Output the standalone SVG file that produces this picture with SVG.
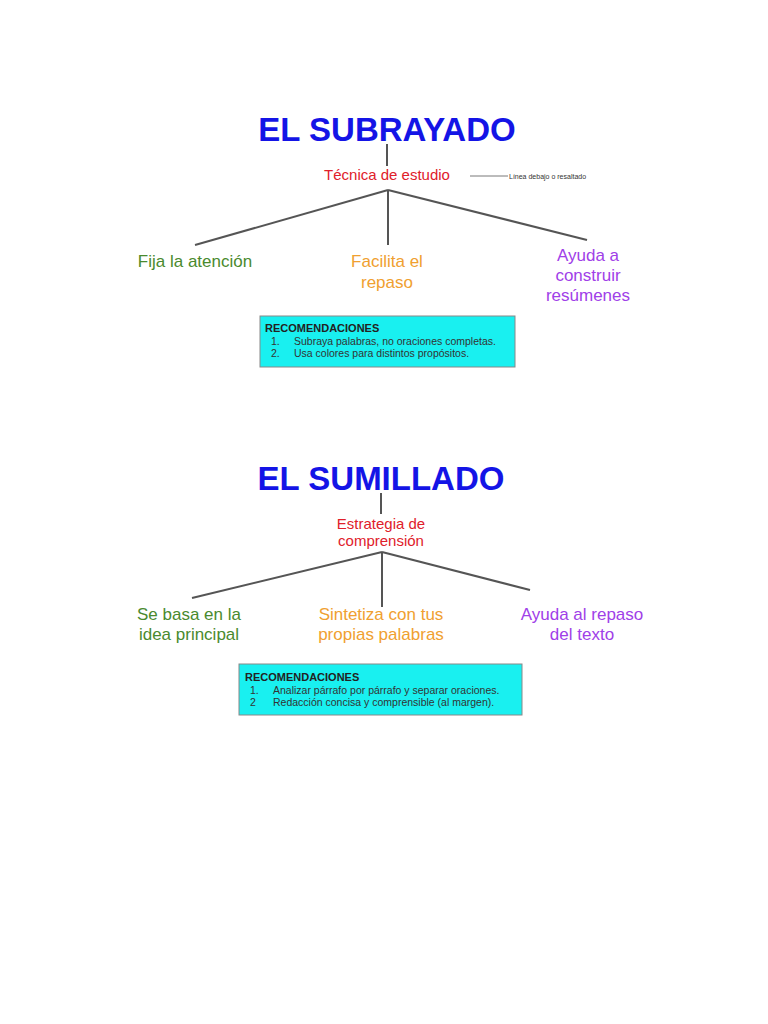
<svg xmlns="http://www.w3.org/2000/svg" width="768" height="1024" viewBox="0 0 768 1024">
<style>
text{font-family:"Liberation Sans",Arial,sans-serif}
.t{font-size:33px;font-weight:bold;fill:#1414e6}
.r{font-size:15px;fill:#e0202a}
.g{font-size:17px;fill:#4a8a2e}
.o{font-size:17px;fill:#f0a030}
.p{font-size:17px;fill:#a040e8}
.c line{stroke:#555;stroke-width:2}
.box{fill:#19f0f0;stroke:#888;stroke-width:1}
.bh{font-size:11px;font-weight:bold;fill:#222}
.bt{font-size:10.5px;fill:#333}
</style>
<rect width="768" height="1024" fill="#fff"/>
<g class="c">
<line x1="387" y1="144" x2="387" y2="166"/>
<line x1="388" y1="190" x2="195" y2="245"/>
<line x1="388" y1="190" x2="388" y2="245"/>
<line x1="388" y1="190" x2="587" y2="240"/>
<line x1="470" y1="176" x2="508" y2="176" style="stroke-width:0.8"/>
<line x1="381" y1="493" x2="381" y2="514"/>
<line x1="382" y1="552" x2="192" y2="598"/>
<line x1="382" y1="552" x2="382" y2="607"/>
<line x1="382" y1="552" x2="530" y2="590"/>
</g>
<g id="title1"><text class="t" x="387" y="141" text-anchor="middle">EL SUBRAYADO</text></g>
<g id="tecnica"><text class="r" x="387" y="180" text-anchor="middle">Técnica de estudio</text></g>
<g id="linea"><text x="509" y="179" style="font-size:7px;fill:#333">Línea debajo o resaltado</text></g>
<g id="fija"><text class="g" x="195" y="267" text-anchor="middle">Fija la atención</text></g>
<g id="facilita"><text class="o" x="387" y="267" text-anchor="middle">Facilita el</text><text class="o" x="387" y="288" text-anchor="middle">repaso</text></g>
<g id="ayuda1"><text class="p" x="588" y="261" text-anchor="middle">Ayuda a</text><text class="p" x="588" y="281" text-anchor="middle">construir</text><text class="p" x="588" y="301" text-anchor="middle">resúmenes</text></g>
<g id="rec1"><rect class="box" x="260" y="316" width="255" height="51"/>
<text class="bh" x="265" y="332">RECOMENDACIONES</text>
<text class="bt" x="271" y="345">1.</text><text class="bt" x="294" y="345">Subraya palabras, no oraciones completas.</text>
<text class="bt" x="271" y="357">2.</text><text class="bt" x="294" y="357">Usa colores para distintos propósitos.</text></g>
<g id="title2"><text class="t" x="381" y="490" text-anchor="middle">EL SUMILLADO</text></g>
<g id="estrategia"><text class="r" x="381" y="529" text-anchor="middle">Estrategia de</text><text class="r" x="381" y="546" text-anchor="middle">comprensión</text></g>
<g id="basa"><text class="g" x="189" y="620" text-anchor="middle">Se basa en la</text><text class="g" x="189" y="640" text-anchor="middle">idea principal</text></g>
<g id="sintetiza"><text class="o" x="381" y="620" text-anchor="middle">Sintetiza con tus</text><text class="o" x="381" y="640" text-anchor="middle">propias palabras</text></g>
<g id="ayuda2"><text class="p" x="582" y="620" text-anchor="middle">Ayuda al repaso</text><text class="p" x="582" y="640" text-anchor="middle">del texto</text></g>
<g id="rec2"><rect class="box" x="239" y="664" width="283" height="51"/>
<text class="bh" x="245" y="681">RECOMENDACIONES</text>
<text class="bt" x="250" y="694">1.</text><text class="bt" x="273" y="694">Analizar párrafo por párrafo y separar oraciones.</text>
<text class="bt" x="250" y="706">2</text><text class="bt" x="273" y="706">Redacción concisa y comprensible (al margen).</text></g>
</svg>
